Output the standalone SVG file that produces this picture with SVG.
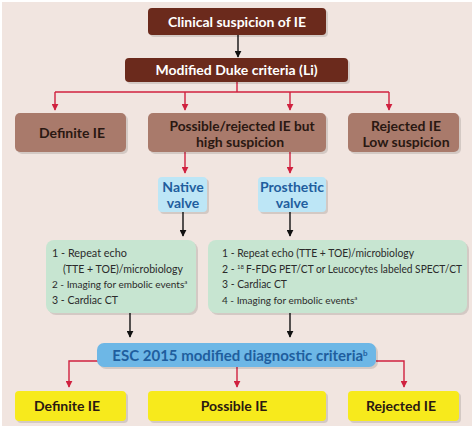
<svg xmlns="http://www.w3.org/2000/svg" width="474" height="431" viewBox="0 0 474 431">
<defs>
<style>
.t{font-family:Lato,"Open Sans","Liberation Sans",sans-serif;font-weight:bold;text-anchor:middle}
.w{fill:#ffffff;font-size:14px}
.d{fill:#2a1812;font-size:14px}
.b{fill:#1f5e9e;font-size:14px}
.g{font-family:Lato,"Open Sans","Liberation Sans",sans-serif;fill:#2b2b2b;font-size:10.5px}
.sup{font-family:Lato,"Open Sans","Liberation Sans",sans-serif;fill:#2b2b2b;font-size:6px}
.red{stroke:#d0213f;stroke-width:1.4;fill:none}
.blk{stroke:#111111;stroke-width:1.4;fill:none}
.sh{fill:#000;opacity:0.12}
</style>
<marker id="ar" viewBox="0 0 10 10" refX="9" refY="5" markerWidth="7" markerHeight="7" orient="auto" markerUnits="userSpaceOnUse"><path d="M0,0 L10,5 L0,10 z" fill="#d0213f"/></marker>
<marker id="ab" viewBox="0 0 10 10" refX="9" refY="5" markerWidth="7" markerHeight="7" orient="auto" markerUnits="userSpaceOnUse"><path d="M0,0 L10,5 L0,10 z" fill="#111111"/></marker>
</defs>
<rect x="0" y="0" width="474" height="431" fill="#ffffff"/>
<rect x="2" y="2" width="470" height="424" fill="#f1e5e0"/>

<g id="connectors">
<line class="blk" x1="238" y1="35" x2="238" y2="57" marker-end="url(#ab)"/>
<line class="red" x1="237" y1="82" x2="237" y2="92"/>
<line class="red" x1="55" y1="92" x2="389" y2="92"/>
<line class="red" x1="55" y1="92" x2="55" y2="110" marker-end="url(#ar)"/>
<line class="red" x1="185" y1="92" x2="185" y2="110" marker-end="url(#ar)"/>
<line class="red" x1="290" y1="92" x2="290" y2="110" marker-end="url(#ar)"/>
<line class="red" x1="389" y1="92" x2="389" y2="110" marker-end="url(#ar)"/>
<line class="red" x1="185" y1="152" x2="185" y2="173" marker-end="url(#ar)"/>
<line class="red" x1="290" y1="152" x2="290" y2="173" marker-end="url(#ar)"/>
<line class="blk" x1="183" y1="212" x2="183" y2="236" marker-end="url(#ab)"/>
<line class="blk" x1="290" y1="212" x2="290" y2="236" marker-end="url(#ab)"/>
<line class="blk" x1="130" y1="313" x2="130" y2="337" marker-end="url(#ab)"/>
<line class="blk" x1="290" y1="313" x2="290" y2="337" marker-end="url(#ab)"/>
<polyline class="red" points="98,361 69,361 69,387" marker-end="url(#ar)"/>
<line class="red" x1="237" y1="367" x2="237" y2="387" marker-end="url(#ar)"/>
<polyline class="red" points="376,361 404,361 404,387" marker-end="url(#ar)"/>
</g>

<g id="n-clinical">
<rect class="sh" x="150" y="10" width="178" height="27" rx="4"/>
<rect x="148" y="8" width="178" height="27" rx="4" fill="#6b2a1c"/>
<text class="t w" x="237" y="26.5">Clinical suspicion of IE</text>
</g>
<g id="n-duke">
<rect class="sh" x="127" y="60" width="223" height="24" rx="4"/>
<rect x="125" y="58" width="223" height="24" rx="4" fill="#6b2a1c"/>
<text class="t w" x="236.5" y="75">Modified Duke criteria (Li)</text>
</g>
<g id="n-definite1">
<rect class="sh" x="17" y="115" width="111" height="39" rx="5"/>
<rect x="15" y="113" width="111" height="39" rx="5" fill="#a97a6b"/>
<text class="t d" x="72" y="138">Definite IE</text>
</g>
<g id="n-possible1">
<rect class="sh" x="150" y="115" width="178" height="39" rx="5"/>
<rect x="148" y="113" width="178" height="39" rx="5" fill="#a97a6b"/>
<text class="t d" x="242" y="130.5" textLength="145" lengthAdjust="spacingAndGlyphs">Possible/rejected IE but</text>
<text class="t d" x="240" y="146.5">high suspicion</text>
</g>
<g id="n-rejected1">
<rect class="sh" x="350" y="115" width="111" height="39" rx="5"/>
<rect x="348" y="113" width="111" height="39" rx="5" fill="#a97a6b"/>
<text class="t d" x="406" y="130.5">Rejected IE</text>
<text class="t d" x="406" y="146.5">Low suspicion</text>
</g>
<g id="n-native">
<rect class="sh" x="160" y="179" width="49" height="35" rx="4"/>
<rect x="158" y="177" width="49" height="35" rx="4" fill="#bde6f6"/>
<text class="t b" x="183" y="191.5">Native</text>
<text class="t b" x="183" y="207.5">valve</text>
</g>
<g id="n-prosthetic">
<rect class="sh" x="260" y="179" width="68" height="35" rx="4"/>
<rect x="258" y="177" width="68" height="35" rx="4" fill="#bde6f6"/>
<text class="t b" x="292" y="191.5">Prosthetic</text>
<text class="t b" x="292" y="207.5">valve</text>
</g>
<g id="n-native-steps">
<rect class="sh" x="48" y="242" width="150" height="73" rx="8"/>
<rect x="46" y="240" width="150" height="73" rx="8" fill="#c7e5d1"/>
<text class="g" x="52" y="257" textLength="75" lengthAdjust="spacingAndGlyphs">1 - Repeat echo</text>
<text class="g" x="63" y="272.5" textLength="120" lengthAdjust="spacingAndGlyphs">(TTE + TOE)/microbiology</text>
<text class="g" x="52" y="288" style="font-size:10px">2 - Imaging for embolic events<tspan font-size="6" dy="-4">a</tspan></text>
<text class="g" x="52" y="303.5" textLength="66" lengthAdjust="spacingAndGlyphs">3 - Cardiac CT</text>
</g>
<g id="n-prosthetic-steps">
<rect class="sh" x="210" y="242" width="259" height="73" rx="8"/>
<rect x="208" y="240" width="259" height="73" rx="8" fill="#c7e5d1"/>
<text class="g" x="222" y="257" textLength="192" lengthAdjust="spacingAndGlyphs">1 - Repeat echo (TTE + TOE)/microbiology</text>
<text class="g" x="222" y="272.5">2 -</text>
<text class="sup" x="237" y="268.5">18</text>
<text class="g" x="246" y="272.5" textLength="216" lengthAdjust="spacingAndGlyphs">F-FDG PET/CT or Leucocytes labeled SPECT/CT</text>
<text class="g" x="222" y="288" textLength="65" lengthAdjust="spacingAndGlyphs">3 - Cardiac CT</text>
<text class="g" x="222" y="303.5" style="font-size:10px">4 - Imaging for embolic events<tspan font-size="6" dy="-4">a</tspan></text>
</g>
<g id="n-esc">
<rect class="sh" x="99" y="345" width="279" height="24" rx="7"/>
<rect x="97" y="343" width="279" height="24" rx="7" fill="#6db7e6"/>
<text class="t b" x="240" y="360.5" style="font-size:15px">ESC 2015 modified diagnostic criteria<tspan font-size="8" dy="-5">b</tspan></text>
</g>
<g id="n-definite2">
<rect class="sh" x="17" y="393" width="111" height="30" rx="4"/>
<rect x="15" y="391" width="111" height="30" rx="4" fill="#f7ea1c"/>
<text class="t d" x="67" y="411">Definite IE</text>
</g>
<g id="n-possible2">
<rect class="sh" x="150" y="393" width="178" height="30" rx="4"/>
<rect x="148" y="391" width="178" height="30" rx="4" fill="#f7ea1c"/>
<text class="t d" x="234" y="411">Possible  IE</text>
</g>
<g id="n-rejected2">
<rect class="sh" x="350" y="393" width="111" height="30" rx="4"/>
<rect x="348" y="391" width="111" height="30" rx="4" fill="#f7ea1c"/>
<text class="t d" x="401" y="411">Rejected IE</text>
</g>
</svg>
